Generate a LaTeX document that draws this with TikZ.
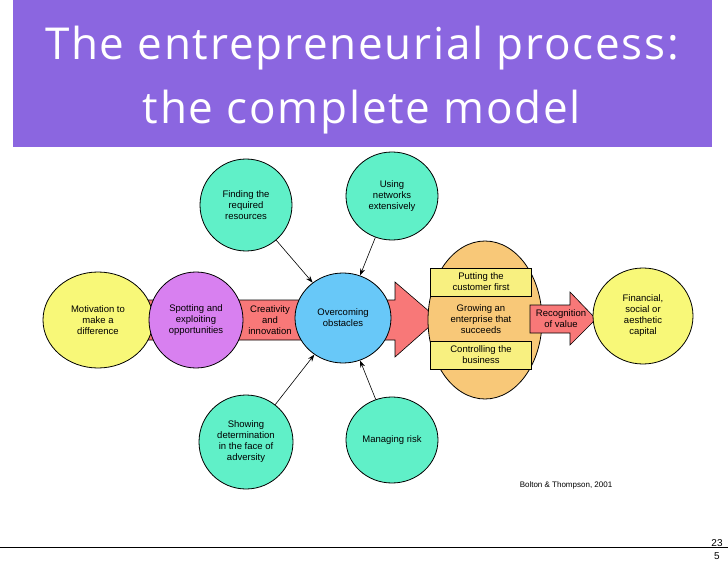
\documentclass[tikz,border=0pt]{standalone}
\usepackage{fontspec}
\setmainfont{Liberation Sans}
\newfontfamily\titlefont{Open Sans}
\usetikzlibrary{shapes.geometric,arrows.meta}
\definecolor{titlebg}{HTML}{8B66E0}
\definecolor{redarr}{HTML}{F87878}
\definecolor{yel}{HTML}{F8F878}
\definecolor{purp}{HTML}{D880F0}
\definecolor{blu}{HTML}{68C8F8}
\definecolor{teal}{HTML}{60F0C8}
\definecolor{orng}{HTML}{F8C878}
\definecolor{boxy}{HTML}{F8F080}
\tikzset{
  bub/.style={ellipse,draw=black,line width=0.8pt,align=center,font=\fontsize{9.5}{11}\selectfont,inner sep=0pt},
  lbl/.style={align=center,font=\fontsize{9.5}{11}\selectfont},
  ybox/.style={draw=black,line width=0.8pt,fill=boxy,align=center,font=\fontsize{9.5}{11}\selectfont,minimum width=101pt,minimum height=28pt,inner sep=0pt},
  conn/.style={-{Stealth[length=7pt,width=5pt]},line width=0.6pt}
}
\begin{document}
\begin{tikzpicture}[x=1pt,y=-1pt]
\useasboundingbox (0,0) rectangle (728,564);
\fill[titlebg] (13,0) rectangle (712,147);
\node[text=white,font=\titlefont\addfontfeatures{LetterSpace=4}\fontsize{44}{64}\selectfont,align=center] (title) at (362,80) {The entrepreneurial process:\\the complete model};
% main arrow
\draw[fill=redarr,line width=0.6pt] (75,300) -- (395,300) -- (395,282) -- (438,319) -- (395,357) -- (395,340) -- (75,340) -- cycle;
\node[ellipse,draw=black,line width=0.8pt,fill=orng,minimum width=114pt,minimum height=158pt] (org) at (485,320) {};
% second arrow
\draw[fill=redarr,line width=0.6pt] (530,305) -- (570,305) -- (570,292) -- (596,319) -- (570,345) -- (570,333) -- (530,333) -- cycle;
\node[lbl] (rec) at (561,319) {Recognition\\of value};
\node[ybox] (put) at (481,282) {Putting the\\customer first};
\node[ybox] (ctl) at (481,355) {Controlling the\\business};
\node[lbl] (grow) at (481,319) {Growing an\\enterprise that\\succeeds};
\node[bub,fill=yel,minimum width=110pt,minimum height=96pt] (mot) at (98,320) {Motivation to\\make a\\difference};
\node[bub,fill=purp,minimum width=94pt,minimum height=96pt] (spot) at (196,320) {Spotting and\\exploiting\\opportunities};
\node[lbl] (cre) at (270,320) {Creativity\\and\\innovation};
\node[bub,fill=blu,minimum width=96pt,minimum height=90pt] (over) at (343,318) {Overcoming\\obstacles};
\node[bub,fill=teal,minimum width=92pt,minimum height=92pt] (find) at (246,205) {Finding the\\required\\resources};
\node[bub,fill=teal,minimum width=92pt,minimum height=88pt] (use) at (392,196) {Using\\networks\\extensively};
\node[bub,fill=teal,minimum width=94pt,minimum height=94pt] (show) at (246,442) {Showing\\determination\\in the face of\\adversity};
\node[bub,fill=teal,minimum width=92pt,minimum height=86pt] (man) at (392,440) {Managing risk};
\node[bub,fill=yel,minimum width=100pt,minimum height=96pt] (fin) at (643,316) {Financial,\\social or\\aesthetic\\capital};
\draw[conn] (find) -- (over);
\draw[conn] (use) -- (over);
\draw[conn] (show) -- (over);
\draw[conn] (man) -- (over);
\node[font=\fontsize{8}{9}\selectfont] (cite) at (566,485) {Bolton \& Thompson, 2001};
\coordinate (la) at (0,547);
\coordinate (lb) at (728,547);
\draw[line width=0.6pt] (la) -- (lb);
\node[font=\fontsize{10}{10}\selectfont,anchor=south] (n23) at (717,550) {23};
\node[font=\fontsize{10}{10}\selectfont] (n5) at (717,556) {5};
\end{tikzpicture}
\end{document}
